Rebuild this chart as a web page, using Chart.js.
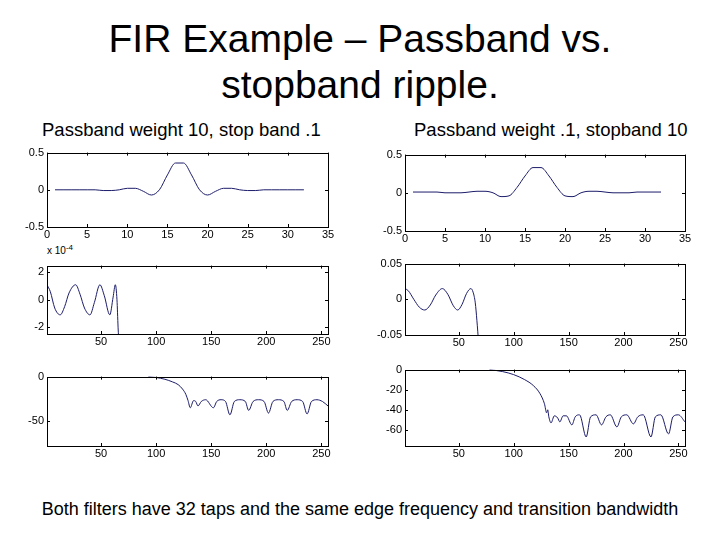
<!DOCTYPE html>
<html>
<head>
<meta charset="utf-8">
<script src="https://cdn.jsdelivr.net/npm/chart.js@4.4.1/dist/chart.umd.min.js"></script>
<style>
  body { margin: 0; background: #fff; font-family: "Liberation Sans", Arial, sans-serif; }
  #page { position: relative; width: 720px; height: 540px; overflow: hidden; }
  .t { position: absolute; color: #000; white-space: nowrap; }
  canvas { position: absolute; }
</style>
</head>
<body>
<div id="page">
  <div class="t" style="left:0;width:720px;top:16px;text-align:center;font-size:39px;line-height:46px;">FIR Example – Passband vs.<br>stopband ripple.</div>
  <div class="t" style="left:42px;top:119px;font-size:18.5px;">Passband weight 10, stop band .1</div>
  <div class="t" style="left:414px;top:119px;font-size:18.5px;">Passband weight .1, stopband 10</div>
  <div class="t" style="left:47px;top:243px;font-size:10px;font-family:'Liberation Sans Narrow','Liberation Sans';">x 10<sup style="font-size:8px">-4</sup></div>
  <div class="t" style="left:0;width:720px;top:499px;text-align:center;font-size:18px;">Both filters have 32 taps and the same edge frequency and transition bandwidth</div>
  <canvas id="c1"></canvas><canvas id="c2"></canvas><canvas id="c3"></canvas>
  <canvas id="c4"></canvas><canvas id="c5"></canvas><canvas id="c6"></canvas>
</div>
<script>
'use strict';

// ── Data ─────────────────────────────────────────────────────────────────────

const tapIndex = [1,2,3,4,5,6,7,8,9,10,11,12,13,14,15,16,17,18,19,20,21,22,23,24,25,26,27,28,29,30,31,32];
const impulseLeft  = [0,0,0,0,0,0,-0.01,-0.01,0,0.02,0.02,-0.02,-0.07,0,0.2,0.36,0.36,0.2,0,-0.07,-0.02,0.02,0.02,0,-0.01,-0.01,0,0,0,0,0,0];
const impulseRight = [0.01,0.01,0.01,0.01,0,0,0,0.01,0.02,0.02,0,-0.05,-0.04,0.07,0.22,0.33,0.33,0.22,0.07,-0.04,-0.05,0,0.02,0.02,0.01,0,0,0,0.01,0.01,0.01,0.01];

// passband ripple (left in units of 1e-4)
const rippleLeftX = [1,4,8,13,17,21,27,31,35,40,44,49,53,58,61,63,64.5,65.5,66.5];
const rippleLeftY = [1.1,0.6,-0.6,-1.1,-0.5,0.5,1.1,0.4,-0.6,-1.1,-0.2,1.1,0.3,-1.1,0.2,1.1,0,-2,-3.5];
const rippleRightX = [1,4,9,14,19,24,29,35,40,45,49,53,57,61,63,65,66.5,68];
const rippleRightY = [0.015,0.012,0.0,-0.011,-0.015,-0.008,0.006,0.015,0.007,-0.009,-0.015,-0.007,0.008,0.015,0.01,-0.005,-0.03,-0.06];

// magnitude response in dB
const magLeftX = [93,100,108,115,120,124,127,129,131,134,136,138,141,145,152,155,159,163,167,171,176,181,184,188,193,198,202,206,211,216,219,223,228,233,237,241,246,251,256];
const magLeftY = [0,-1,-3,-6,-9,-14,-20,-27,-35,-27,-28,-33,-28,-26,-35,-28,-26,-28,-43,-28,-26,-28,-38,-28,-26,-28,-41,-28,-26,-28,-38,-28,-26,-28,-42,-28,-26,-28,-33];
const magRightX = [78,90,100,110,118,124,128,130,131,132,134,137,140,142,145,148,153,156,160,166,170,175,180,184,188,194,198,203,209,213,218,225,229,234,241,245,250,256];
const magRightY = [0,-2,-5,-10,-16,-24,-34,-43,-40,-47,-53,-46,-48,-52,-46,-46,-55,-47,-45,-67,-47,-45,-55,-47,-45,-57,-47,-45,-54,-47,-45,-67,-47,-45,-64,-47,-45,-52];

const ticksTapX = [0,5,10,15,20,25,30,35];
const ticksTapY = [-0.5,0,0.5];
const ticksFreqX = [50,100,150,200,250];
const ticksRippleLeftY = [-2,0,2];
const ticksRippleRightY = [-0.05,0,0.05];
const ticksMagLeftY = [-50,0];
const ticksMagRightY = [-60,-40,-20,0];

// ── Plot helper ──────────────────────────────────────────────────────────────

const LINE = '#1c1c6a';
const YW = 34, XH = 16, PT = 8, PR = 10;

const boxPlugin = {
  id: 'box',
  afterDraw(chart) {
    const { ctx, chartArea: a, scales } = chart;
    ctx.save();
    ctx.strokeStyle = '#000';
    ctx.lineWidth = 1;
    ctx.strokeRect(Math.round(a.left) + 0.5, Math.round(a.top) + 0.5, Math.round(a.right - a.left), Math.round(a.bottom - a.top));
    ctx.beginPath();
    scales.x.ticks.forEach(t => {
      const px = Math.round(scales.x.getPixelForValue(t.value)) + 0.5;
      ctx.moveTo(px, a.bottom); ctx.lineTo(px, a.bottom - 3);
      ctx.moveTo(px, a.top); ctx.lineTo(px, a.top + 3);
    });
    scales.y.ticks.forEach(t => {
      const py = Math.round(scales.y.getPixelForValue(t.value)) + 0.5;
      ctx.moveTo(a.left, py); ctx.lineTo(a.left + 3, py);
      ctx.moveTo(a.right, py); ctx.lineTo(a.right - 3, py);
    });
    ctx.stroke();
    ctx.restore();
  },
};

function makePlot(id, box, xs, ys, xr, yr, xt, yt) {
  const cv = document.getElementById(id);
  const w = box.r - box.l + YW + PR, h = box.b - box.t + XH + PT;
  cv.style.left = (box.l - YW) + 'px';
  cv.style.top = (box.t - PT) + 'px';
  cv.style.width = w + 'px';
  cv.style.height = h + 'px';
  cv.width = w; cv.height = h;
  const tickFont = { family: '"Liberation Sans Narrow", "Liberation Sans", Arial', size: 11 };
  const noGrid = { display: false, drawTicks: false, tickLength: 0 };
  new Chart(cv, {
    type: 'line',
    data: { datasets: [{ data: xs.map((x, i) => ({ x, y: ys[i] })), borderColor: LINE, borderWidth: 1, pointRadius: 0, tension: 0.35, cubicInterpolationMode: 'monotone' }] },
    options: {
      responsive: false, animation: false, devicePixelRatio: 1,
      layout: { padding: { top: PT, right: PR, left: 0, bottom: 0 } },
      plugins: { legend: { display: false }, tooltip: { enabled: false } },
      scales: {
        x: {
          type: 'linear', min: xr[0], max: xr[1],
          afterBuildTicks: s => { s.ticks = xt.map(v => ({ value: v })); },
          afterFit: s => { s.height = XH; },
          ticks: { color: '#000', font: tickFont, padding: 1, autoSkip: false, maxRotation: 0 },
          grid: noGrid, border: { display: false },
        },
        y: {
          min: yr[0], max: yr[1],
          afterBuildTicks: s => { s.ticks = yt.map(v => ({ value: v })); },
          afterFit: s => { s.width = YW; },
          ticks: { color: '#000', font: tickFont, padding: 3 },
          grid: noGrid, border: { display: false },
        },
      },
    },
    plugins: [boxPlugin],
  });
}

makePlot('c1', { l: 47, t: 151, r: 328, b: 227 }, tapIndex, impulseLeft, [0, 35], [-0.5, 0.5], ticksTapX, ticksTapY);
makePlot('c2', { l: 47, t: 264, r: 328, b: 334 }, rippleLeftX, rippleLeftY, [1, 256], [-2.5, 2.5], ticksFreqX, ticksRippleLeftY);
makePlot('c3', { l: 47, t: 375, r: 328, b: 446 }, magLeftX, magLeftY, [1, 256], [-78, 0], ticksFreqX, ticksMagLeftY);
makePlot('c4', { l: 405, t: 153, r: 685, b: 231 }, tapIndex, impulseRight, [0, 35], [-0.5, 0.5], ticksTapX, ticksTapY);
makePlot('c5', { l: 405, t: 262, r: 685, b: 335 }, rippleRightX, rippleRightY, [1, 256], [-0.05, 0.05], ticksFreqX, ticksRippleRightY);
makePlot('c6', { l: 405, t: 368, r: 685, b: 446 }, magRightX, magRightY, [1, 256], [-76, 0], ticksFreqX, ticksMagRightY);
</script>
</body>
</html>
